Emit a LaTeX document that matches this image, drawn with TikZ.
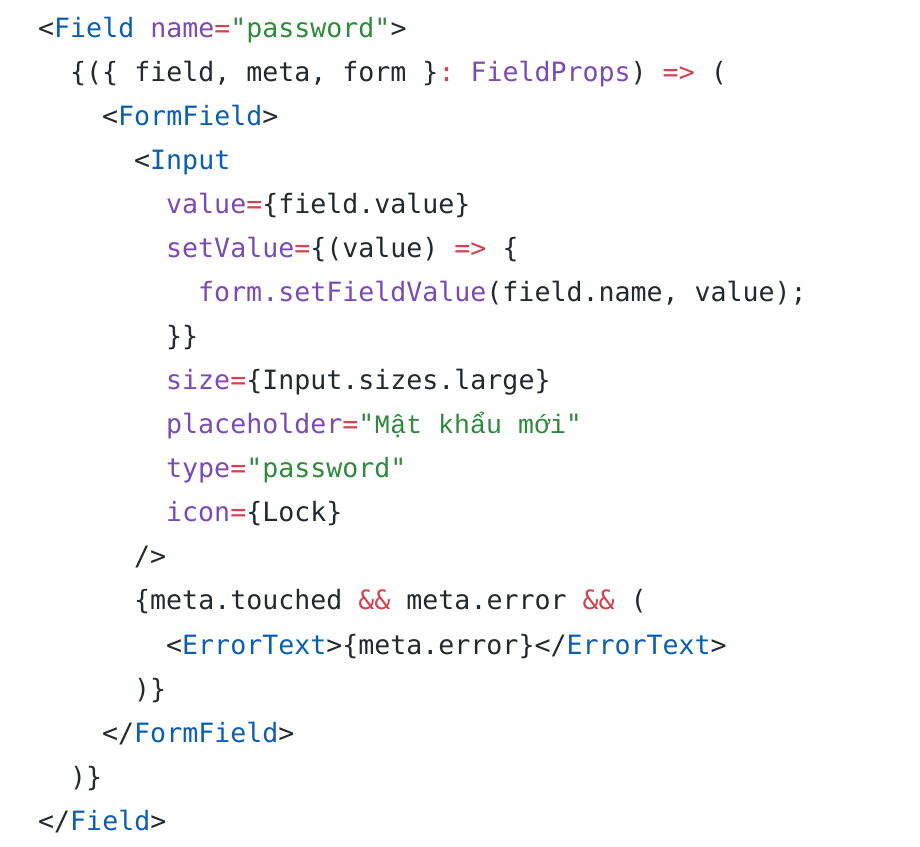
\documentclass[tikz,border=0pt]{standalone}
\usepackage{fontspec}
\setmonofont{DejaVu Sans Mono}
\newfontfamily\vimono{Liberation Mono}
\definecolor{tagc}{HTML}{0B5FB0}
\definecolor{attc}{HTML}{7B4BB5}
\definecolor{strc}{HTML}{2F8A3C}
\definecolor{opc}{HTML}{D4414F}
\definecolor{txtc}{HTML}{24292E}
\newcommand{\tg}[1]{\textcolor{tagc}{#1}}
\newcommand{\atr}[1]{\textcolor{attc}{#1}}
\newcommand{\str}[1]{\textcolor{strc}{#1}}
\newcommand{\opr}[1]{\textcolor{opc}{#1}}
\tikzset{codeline/.style={anchor=base west,inner sep=0pt,font=\ttfamily\fontsize{26.6}{30}\selectfont,text=txtc}}
\begin{document}
\begin{tikzpicture}[x=1pt,y=1pt]
\useasboundingbox[fill=white] (0,0) rectangle (920,846);
\newcommand{\cl}[4]{\node[codeline] (#1) at ({38+16*#2},{846-38-44*#3}) {#4};}
\cl{l0}{0}{0}{<\tg{Field} \atr{name}\opr{=}\str{"password"}>}
\cl{l1}{2}{1}{\{(\{ field, meta, form \}\opr{:} \atr{FieldProps}) \opr{=>} (}
\cl{l2}{4}{2}{<\tg{FormField}>}
\cl{l3}{6}{3}{<\tg{Input}}
\cl{l4}{8}{4}{\atr{value}\opr{=}\{field.value\}}
\cl{l5}{8}{5}{\atr{setValue}\opr{=}\{(value) \opr{=>} \{}
\cl{l6}{10}{6}{\atr{form.setFieldValue}(field.name, value);}
\cl{l7}{8}{7}{\}\}}
\cl{l8}{8}{8}{\atr{size}\opr{=}\{Input.sizes.large\}}
\cl{l9}{8}{9}{\atr{placeholder}\opr{=}\str{"{\vimono Mật khẩu mới}"}}
\cl{l10}{8}{10}{\atr{type}\opr{=}\str{"password"}}
\cl{l11}{8}{11}{\atr{icon}\opr{=}\{Lock\}}
\cl{l12}{6}{12}{/>}
\cl{l13}{6}{13}{\{meta.touched \opr{\&\&} meta.error \opr{\&\&} (}
\cl{l14}{8}{14}{<\tg{ErrorText}>\{meta.error\}</\tg{ErrorText}>}
\cl{l15}{6}{15}{)\}}
\cl{l16}{4}{16}{</\tg{FormField}>}
\cl{l17}{2}{17}{)\}}
\cl{l18}{0}{18}{</\tg{Field}>}
\end{tikzpicture}
\end{document}
